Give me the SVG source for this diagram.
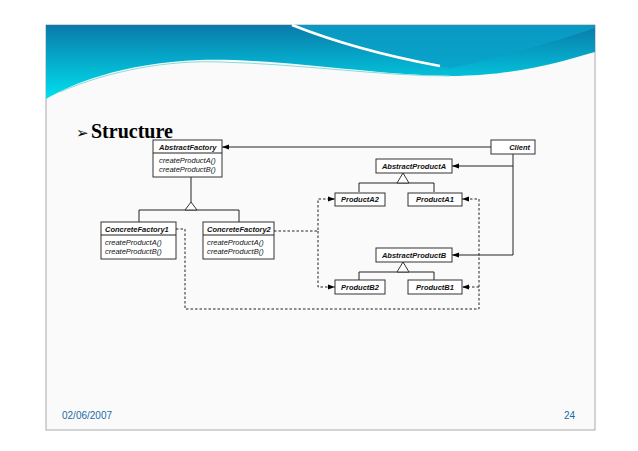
<svg xmlns="http://www.w3.org/2000/svg" width="638" height="451" viewBox="0 0 638 451">
<defs>
<linearGradient id="g2" x1="0" y1="0" x2="0" y2="1"><stop offset="0" stop-color="#0a7aaa"/><stop offset="1" stop-color="#00e0ee"/></linearGradient>
<marker id="fa" viewBox="0 0 10 10" refX="10" refY="5" markerWidth="7" markerHeight="7" orient="auto"><path d="M0,1.5 L10,5 L0,8.5 z" fill="#000"/></marker>
</defs>
<style>
.b{fill:#fff;stroke:#333;stroke-width:1}
.t{font-family:"Liberation Sans",Arial,sans-serif;font-size:7.5px;font-style:italic;fill:#111}
.h{font-weight:bold}
.l{fill:none;stroke:#222;stroke-width:1}
.d{fill:none;stroke:#222;stroke-width:1;stroke-dasharray:2.5,2}
</style>
<rect width="638" height="451" fill="#fff"/>
<rect x="46" y="25" width="549" height="405" fill="#fafafa" stroke="#aaa"/>
<path d="M46,25 H595 V52 C560,62 520,75 450,76 C380,76 280,58 200,60 C120,63 70,85 46,99 Z" fill="url(#g2)"/>
<path d="M290,25 C340,40 380,55 450,68 C500,58 560,40 595,28 V25 Z" fill="#0aa0c8" opacity="0.8"/>
<path d="M292,25 C330,40 380,55 440,66" stroke="#fff" stroke-width="2.5" fill="none"/>
<path d="M60,92 C110,70 170,60 220,62 C300,64 380,76 450,76" stroke="#8dd" stroke-width="1" fill="none"/>
<text x="76" y="138" font-family="DejaVu Sans,sans-serif" font-size="15" fill="#000">➢</text>
<text x="91" y="138" font-family="Liberation Serif,serif" font-size="20" font-weight="bold" fill="#000">Structure</text>
<g id="connectors">
<path class="l" d="M491,147 H222" marker-end="url(#fa)"/>
<path class="l" d="M513,154 V255 H452" marker-end="url(#fa)"/>
<path class="l" d="M513,166 H452" marker-end="url(#fa)"/>
<path class="l" d="M191,177 V202 M139,222 V210 H239 V222"/>
<path class="b" d="M191,202 L185,210 H197 Z"/>
<path class="l" d="M403,173 V183 M359,192 V183 H434 V192 M403,262 V272 M359,280 V272 H434 V280"/>
<path class="b" d="M403,173 L397,183 H409 Z"/>
<path class="b" d="M403,262 L397,272 H409 Z"/>
<path class="d" d="M274,231 H318 V199 H335" marker-end="url(#fa)"/>
<path class="d" d="M318,231 V287 H335" marker-end="url(#fa)"/>
<path class="d" d="M176,229 H185 V309 H479 V199 H462" marker-end="url(#fa)"/>
<path class="d" d="M479,287 H462" marker-end="url(#fa)"/>
</g>
<g id="AbstractFactory"><rect class="b" x="153" y="140" width="69" height="37"/><line class="l" x1="153" y1="153" x2="222" y2="153"/><text class="t h" x="159" y="150">AbstractFactory</text><text class="t" x="159" y="163">createProductA()</text><text class="t" x="159" y="172">createProductB()</text></g>
<g id="ConcreteFactory1"><rect class="b" x="101" y="222" width="75" height="37"/><line class="l" x1="101" y1="235" x2="176" y2="235"/><text class="t h" x="105" y="232">ConcreteFactory1</text><text class="t" x="105" y="245">createProductA()</text><text class="t" x="105" y="254">createProductB()</text></g>
<g id="ConcreteFactory2"><rect class="b" x="203" y="222" width="71" height="37"/><line class="l" x1="203" y1="235" x2="274" y2="235"/><text class="t h" x="207" y="232">ConcreteFactory2</text><text class="t" x="207" y="245">createProductA()</text><text class="t" x="207" y="254">createProductB()</text></g>
<g id="Client"><rect class="b" x="491" y="140" width="44" height="14"/><text class="t h" x="530" y="150" text-anchor="end">Client</text></g>
<g id="AbstractProductA"><rect class="b" x="376" y="159" width="76" height="14"/><text class="t h" x="414" y="169" text-anchor="middle">AbstractProductA</text></g>
<g id="ProductA2"><rect class="b" x="335" y="193" width="50" height="13"/><text class="t h" x="360" y="202" text-anchor="middle">ProductA2</text></g>
<g id="ProductA1"><rect class="b" x="408" y="193" width="54" height="13"/><text class="t h" x="435" y="202" text-anchor="middle">ProductA1</text></g>
<g id="AbstractProductB"><rect class="b" x="376" y="248" width="76" height="14"/><text class="t h" x="414" y="258" text-anchor="middle">AbstractProductB</text></g>
<g id="ProductB2"><rect class="b" x="335" y="280" width="50" height="14"/><text class="t h" x="360" y="290" text-anchor="middle">ProductB2</text></g>
<g id="ProductB1"><rect class="b" x="408" y="280" width="54" height="14"/><text class="t h" x="435" y="290" text-anchor="middle">ProductB1</text></g>
<text x="62" y="419" font-family="Liberation Sans,Arial,sans-serif" font-size="10" fill="#1a6aa8">02/06/2007</text>
<text x="575" y="419" font-family="Liberation Sans,Arial,sans-serif" font-size="10" fill="#1a6aa8" text-anchor="end">24</text>
</svg>
